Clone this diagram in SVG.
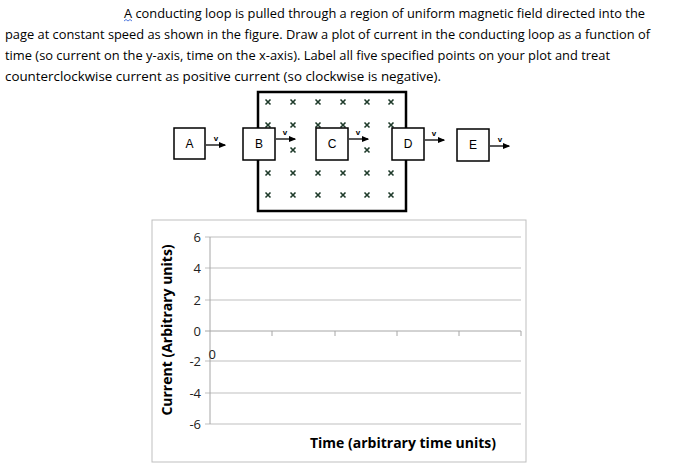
<svg xmlns="http://www.w3.org/2000/svg" width="696" height="472" viewBox="0 0 696 472">
<style>
.t{font-family:"Open Sans","Liberation Sans",sans-serif;font-size:13px;fill:#000}
.lb{font-family:"Liberation Sans",sans-serif;font-size:12px;fill:#000;text-anchor:middle}
.v{font-family:"Liberation Sans",sans-serif;font-size:8px;font-weight:bold;fill:#000;text-anchor:middle}
.loop{fill:#fff;stroke:#000;stroke-width:1.5}
.ar{stroke:#000;stroke-width:1.3;fill:none}
.x{stroke:#1e3a2a;stroke-width:1.6}
.g{stroke:#bfbfbf;stroke-width:1}
.ax{font-family:"Open Sans","Liberation Sans",sans-serif;font-size:13px;fill:#222;text-anchor:end}
.bt{font-family:"Open Sans","Liberation Sans",sans-serif;font-size:14px;font-weight:bold;fill:#000}
</style>
<defs>
<marker id="ah" markerWidth="6" markerHeight="6" refX="5" refY="3" orient="auto"><path d="M0,0.5 L6,3 L0,5.5z" fill="#000"/></marker>
<g id="cx"><path class="x" d="M-2.5,-2.5 L2.5,2.5 M-2.5,2.5 L2.5,-2.5"/></g>
</defs>
<rect width="696" height="472" fill="#fff"/>
<g id="question">
<text class="t" x="124" y="18" textLength="521" lengthAdjust="spacingAndGlyphs">A conducting loop is pulled through a region of uniform magnetic field directed into the</text>
<path d="M124,21 l2,-1.5 l2,1.5 l2,-1.5 l2,1.5" stroke="#2a5bd7" stroke-width="0.8" fill="none"/>
<text class="t" x="5" y="39" textLength="645" lengthAdjust="spacingAndGlyphs">page at constant speed as shown in the figure. Draw a plot of current in the conducting loop as a function of</text>
<text class="t" x="5" y="60" textLength="605" lengthAdjust="spacingAndGlyphs">time (so current on the y-axis, time on the x-axis). Label all five specified points on your plot and treat</text>
<text class="t" x="5" y="81" textLength="436" lengthAdjust="spacingAndGlyphs">counterclockwise current as positive current (so clockwise is negative).</text>
</g>
<g id="field">
<rect x="258" y="92" width="148" height="119" fill="#fff" stroke="#000" stroke-width="2.5"/>
<use href="#cx" x="268" y="102"/><use href="#cx" x="293" y="102"/><use href="#cx" x="318" y="102"/><use href="#cx" x="343" y="102"/><use href="#cx" x="367" y="102"/><use href="#cx" x="391" y="102"/>
<use href="#cx" x="268" y="125"/><use href="#cx" x="293" y="125"/><use href="#cx" x="318" y="125"/><use href="#cx" x="343" y="125"/><use href="#cx" x="367" y="125"/><use href="#cx" x="391" y="125"/>
<use href="#cx" x="293" y="150"/><use href="#cx" x="367" y="150"/>
<use href="#cx" x="268" y="173"/><use href="#cx" x="293" y="173"/><use href="#cx" x="318" y="173"/><use href="#cx" x="343" y="173"/><use href="#cx" x="367" y="173"/><use href="#cx" x="391" y="173"/>
<use href="#cx" x="268" y="195"/><use href="#cx" x="293" y="195"/><use href="#cx" x="318" y="195"/><use href="#cx" x="343" y="195"/><use href="#cx" x="367" y="195"/><use href="#cx" x="391" y="195"/>
</g>
<g id="connectors">
<path class="ar" d="M206,145 H225" marker-end="url(#ah)"/>
<path class="ar" d="M276,139 H295" marker-end="url(#ah)"/>
<path class="ar" d="M349,139 H368" marker-end="url(#ah)"/>
<path class="ar" d="M425,140 H444" marker-end="url(#ah)"/>
<path class="ar" d="M490,146 H509" marker-end="url(#ah)"/>
</g>
<g id="vlabels">
<text class="v" x="216" y="141">v</text><text class="v" x="285" y="135">v</text><text class="v" x="358" y="135">v</text><text class="v" x="434" y="136">v</text><text class="v" x="500" y="142">v</text>
</g>
<g id="loopA"><rect class="loop" x="174" y="128" width="31" height="31"/><text class="lb" x="189.5" y="148">A</text></g>
<g id="loopB"><rect class="loop" x="243" y="128" width="32" height="32"/><text class="lb" x="259" y="148">B</text></g>
<g id="loopC"><rect class="loop" x="316" y="128" width="32" height="32"/><text class="lb" x="332" y="148">C</text></g>
<g id="loopD"><rect class="loop" x="392" y="128" width="32" height="32"/><text class="lb" x="408" y="148">D</text></g>
<g id="loopE"><rect class="loop" x="457" y="129" width="32" height="32"/><text class="lb" x="473" y="149">E</text></g>
<g id="chart">
<rect x="152" y="220" width="374" height="242" fill="#fff" stroke="#bfbfbf"/>
<path class="g" d="M205,237H521M205,268H521M205,300H521M205,361H521M205,393H521M205,424H521"/>
<path stroke="#a6a6a6" d="M210,237V424M205,331H521M272,331v5M335,331v5M397,331v5M459,331v5M521,331v5"/>
<text class="ax" x="201" y="242">6</text><text class="ax" x="201" y="273">4</text><text class="ax" x="201" y="305">2</text><text class="ax" x="201" y="336">0</text><text class="ax" x="201" y="366">-2</text><text class="ax" x="201" y="398">-4</text><text class="ax" x="201" y="429">-6</text>
<text class="ax" x="216" y="359">0</text>
<text class="bt" transform="translate(172,330) rotate(-90)" text-anchor="middle">Current (Arbitrary units)</text>
<text class="bt" x="403" y="448" text-anchor="middle">Time (arbitrary time units)</text>
</g>
</svg>
